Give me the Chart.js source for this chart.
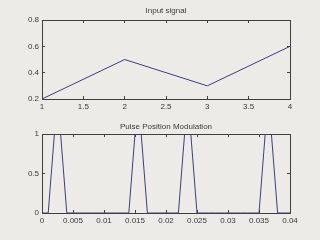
<!DOCTYPE html>
<html lang="en">
  <head>
    <meta charset="UTF-8" />
    <title>Input signal / PPM</title>
    <script src="https://cdn.jsdelivr.net/npm/chart.js"></script>
    <style>
      html, body {
        margin: 0;
        padding: 0;
        background: #edebe8;
      }
      canvas {
        position: absolute;
        left: 0;
      }
      #top { top: 0; }
      #bottom { top: 120px; }
    </style>
  </head>
  <body>
    <canvas id="top" width="320" height="120"></canvas>
    <canvas id="bottom" width="320" height="120"></canvas>

    <script>
      // input signal
      const inputX = [1, 2, 3, 4];
      const inputY = [0.2, 0.5, 0.3, 0.6];
      const inputXTicks = [1, 1.5, 2, 2.5, 3, 3.5, 4];
      const inputYTicks = [0.2, 0.4, 0.6, 0.8];

      // pulse position modulation, sampled every 0.001 s
      const ppmT = [
        0, 0.001, 0.002, 0.003, 0.004, 0.005, 0.006, 0.007, 0.008, 0.009,
        0.01, 0.011, 0.012, 0.013, 0.014, 0.015, 0.016, 0.017, 0.018, 0.019,
        0.02, 0.021, 0.022, 0.023, 0.024, 0.025, 0.026, 0.027, 0.028, 0.029,
        0.03, 0.031, 0.032, 0.033, 0.034, 0.035, 0.036, 0.037, 0.038, 0.039, 0.04,
      ];
      const ppmY = [
        0, 0, 1, 1, 0, 0, 0, 0, 0, 0,
        0, 0, 0, 0, 0, 1, 1, 0, 0, 0,
        0, 0, 0, 1, 1, 0, 0, 0, 0, 0,
        0, 0, 0, 0, 0, 0, 1, 1, 0, 0, 0,
      ];
      const ppmXTicks = [0, 0.005, 0.01, 0.015, 0.02, 0.025, 0.03, 0.035, 0.04];
      const ppmYTicks = [0, 0.5, 1];

      const lineColor = "#3d3d80";
      const frameColor = "#404040";
      const textColor = "#3a3a3a";
      const tickFont = { family: "Liberation Sans", size: 8 };

      // one side of the matlab style box: border plus short inward ticks
      function side(position, tickVals, showLabels, size, pad) {
        const horiz = position === "top" || position === "bottom";
        return {
          type: "linear",
          position: position,
          min: tickVals[0],
          max: tickVals[tickVals.length - 1],
          afterBuildTicks: (s) => { s.ticks = tickVals.map((v) => ({ value: v })); },
          afterFit: (s) => {
            if (horiz) s.height = size;
            else s.width = size;
          },
          border: { display: true, color: frameColor, width: 1 },
          grid: {
            display: true,
            drawOnChartArea: false,
            drawTicks: true,
            tickLength: -3,
            color: frameColor,
          },
          ticks: {
            display: showLabels,
            color: textColor,
            font: tickFont,
            padding: pad,
            maxRotation: 0,
            autoSkip: false,
            callback: (v) => String(v),
          },
        };
      }

      // backup frame round the plot area
      const frame = {
        id: "frame",
        afterDraw(chart) {
          const a = chart.chartArea;
          const c = chart.ctx;
          c.save();
          c.strokeStyle = frameColor;
          c.lineWidth = 1;
          c.strokeRect(Math.round(a.left) + 0.5, Math.round(a.top) + 0.5,
            Math.round(a.right) - Math.round(a.left), Math.round(a.bottom) - Math.round(a.top));
          c.restore();
        },
      };

      function makeChart(id, title, xs, ys, xTicks, yTicks, xHeight, titlePad) {
        return new Chart(document.getElementById(id), {
          type: "line",
          data: {
            datasets: [
              {
                data: xs.map((x, i) => ({ x: x, y: ys[i] })),
                borderColor: lineColor,
                borderWidth: 1,
                pointRadius: 0,
                xAxisID: "x",
                yAxisID: "y",
              },
            ],
          },
          options: {
            responsive: false,
            animation: false,
            layout: { padding: { left: 0, right: 30, top: 0, bottom: 0 } },
            plugins: {
              legend: { display: false },
              tooltip: { enabled: false },
              title: {
                display: true,
                fullSize: false,
                text: title,
                color: textColor,
                font: { family: "Liberation Sans", size: 8, weight: "normal" },
                padding: titlePad,
              },
            },
            scales: {
              x: side("bottom", xTicks, true, xHeight, 6),
              x2: side("top", xTicks, false, 0, 0),
              y: side("left", yTicks, true, 42, 6),
              y2: side("right", yTicks, false, 0, 0),
            },
          },
          plugins: [frame],
        });
      }

      makeChart("top", "Input signal", inputX, inputY, inputXTicks, inputYTicks, 21, { top: 6, bottom: 4.4 });
      makeChart("bottom", "Pulse Position Modulation", ppmT, ppmY, ppmXTicks, ppmYTicks, 27, { top: 2, bottom: 2.4 });
    </script>
  </body>
</html>
